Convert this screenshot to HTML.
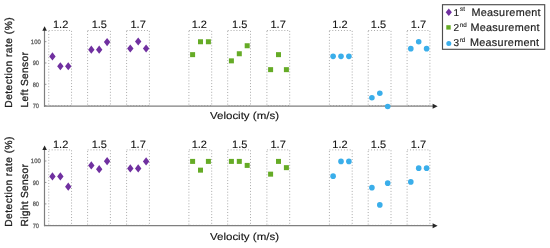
<!DOCTYPE html>
<html><head><meta charset="utf-8"><style>
html,body{margin:0;padding:0;background:#fff;}
svg{display:block;}
text{text-rendering:geometricPrecision;font-family:"Liberation Sans",sans-serif;fill:#1f1f1f;stroke:#1f1f1f;stroke-width:0.3px;}
.yt{font-size:10.2px;}
.tk{font-size:6.3px;fill:#595959;stroke:#595959;stroke-width:0.25px;text-anchor:middle;}
.bl{font-size:10.7px;stroke-width:0.12px;fill:#111;stroke:#111;}
.xt{font-size:10.2px;stroke-width:0.12px;fill:#111;stroke:#111;}
.lg{font-size:10.8px;stroke-width:0.2px;}
.dg{font-size:10px;}
.sup{font-size:6.3px;stroke-width:0.12px;}
</style></head><body>
<svg width="550" height="248" viewBox="0 0 550 248">
<rect width="550" height="248" fill="#fff"/>
<text class="yt" transform="translate(12.4,107.70) rotate(-90)" textLength="90.3" lengthAdjust="spacing">Detection rate (%)</text>
<text class="yt" transform="translate(27.7,107.40) rotate(-90)" textLength="55.2" lengthAdjust="spacing">Left Sensor</text>
<text class="tk" x="35.8" y="43.85" textLength="9.9" lengthAdjust="spacingAndGlyphs">100</text>
<text class="tk" x="35.8" y="65.18" textLength="6.3" lengthAdjust="spacingAndGlyphs">90</text>
<text class="tk" x="35.8" y="86.52" textLength="6.3" lengthAdjust="spacingAndGlyphs">80</text>
<text class="tk" x="35.8" y="107.85" textLength="6.3" lengthAdjust="spacingAndGlyphs">70</text>
<rect x="48.75" y="30.50" width="22.8" height="75.15" fill="none" stroke="#ababab" stroke-width="1" stroke-dasharray="1 1.9"/>
<rect x="87.60" y="30.50" width="22.8" height="75.15" fill="none" stroke="#ababab" stroke-width="1" stroke-dasharray="1 1.9"/>
<rect x="126.60" y="30.50" width="22.8" height="75.15" fill="none" stroke="#ababab" stroke-width="1" stroke-dasharray="1 1.9"/>
<rect x="188.90" y="30.50" width="22.8" height="75.15" fill="none" stroke="#ababab" stroke-width="1" stroke-dasharray="1 1.9"/>
<rect x="227.70" y="30.50" width="22.8" height="75.15" fill="none" stroke="#ababab" stroke-width="1" stroke-dasharray="1 1.9"/>
<rect x="266.90" y="30.50" width="22.8" height="75.15" fill="none" stroke="#ababab" stroke-width="1" stroke-dasharray="1 1.9"/>
<rect x="329.40" y="30.50" width="22.8" height="75.15" fill="none" stroke="#ababab" stroke-width="1" stroke-dasharray="1 1.9"/>
<rect x="368.20" y="30.50" width="22.8" height="75.15" fill="none" stroke="#ababab" stroke-width="1" stroke-dasharray="1 1.9"/>
<rect x="407.10" y="30.50" width="22.8" height="75.15" fill="none" stroke="#ababab" stroke-width="1" stroke-dasharray="1 1.9"/>
<text class="bl" x="53.00" y="28.30" textLength="15.3" lengthAdjust="spacingAndGlyphs">1.2</text>
<text class="bl" x="91.70" y="28.30" textLength="15.3" lengthAdjust="spacingAndGlyphs">1.5</text>
<text class="bl" x="130.50" y="28.30" textLength="15.3" lengthAdjust="spacingAndGlyphs">1.7</text>
<text class="bl" x="191.70" y="28.30" textLength="15.3" lengthAdjust="spacingAndGlyphs">1.2</text>
<text class="bl" x="232.10" y="28.30" textLength="15.3" lengthAdjust="spacingAndGlyphs">1.5</text>
<text class="bl" x="270.50" y="28.30" textLength="15.3" lengthAdjust="spacingAndGlyphs">1.7</text>
<text class="bl" x="332.30" y="28.30" textLength="15.3" lengthAdjust="spacingAndGlyphs">1.2</text>
<text class="bl" x="370.80" y="28.30" textLength="15.3" lengthAdjust="spacingAndGlyphs">1.5</text>
<text class="bl" x="410.80" y="28.30" textLength="15.3" lengthAdjust="spacingAndGlyphs">1.7</text>
<line x1="44.5" y1="30.20" x2="44.5" y2="106.80" stroke="#7f7f7f" stroke-width="1.2"/>
<path d="M44.6 26.20L46.9 30.80L42.3 30.80Z" fill="#262626"/>
<line x1="44" y1="106.20" x2="433" y2="106.20" stroke="#7f7f7f" stroke-width="1.3"/>
<path d="M437.6 106.30L432.6 103.80L432.6 108.80Z" fill="#262626"/>
<line x1="44.5" y1="41.65" x2="46.4" y2="41.65" stroke="#7f7f7f" stroke-width="0.8"/>
<line x1="44.5" y1="62.98" x2="46.4" y2="62.98" stroke="#7f7f7f" stroke-width="0.8"/>
<line x1="44.5" y1="84.32" x2="46.4" y2="84.32" stroke="#7f7f7f" stroke-width="0.8"/>
<line x1="44.5" y1="105.65" x2="46.4" y2="105.65" stroke="#7f7f7f" stroke-width="0.8"/>
<path d="M52.45 52.35L55.65 56.45L52.45 60.55L49.25 56.45Z" fill="#7030A0"/>
<path d="M60.35 62.15L63.55 66.25L60.35 70.35L57.15 66.25Z" fill="#7030A0"/>
<path d="M68.25 62.15L71.45 66.25L68.25 70.35L65.05 66.25Z" fill="#7030A0"/>
<path d="M91.30 45.55L94.50 49.65L91.30 53.75L88.10 49.65Z" fill="#7030A0"/>
<path d="M99.20 45.55L102.40 49.65L99.20 53.75L96.00 49.65Z" fill="#7030A0"/>
<path d="M107.10 37.95L110.30 42.05L107.10 46.15L103.90 42.05Z" fill="#7030A0"/>
<path d="M130.30 44.40L133.50 48.50L130.30 52.60L127.10 48.50Z" fill="#7030A0"/>
<path d="M138.20 37.40L141.40 41.50L138.20 45.60L135.00 41.50Z" fill="#7030A0"/>
<path d="M146.10 44.40L149.30 48.50L146.10 52.60L142.90 48.50Z" fill="#7030A0"/>
<rect x="190.10" y="52.15" width="5.0" height="5.0" fill="#65ab26"/>
<rect x="198.00" y="39.25" width="5.0" height="5.0" fill="#65ab26"/>
<rect x="205.90" y="39.25" width="5.0" height="5.0" fill="#65ab26"/>
<rect x="228.90" y="58.35" width="5.0" height="5.0" fill="#65ab26"/>
<rect x="236.80" y="51.25" width="5.0" height="5.0" fill="#65ab26"/>
<rect x="244.70" y="43.25" width="5.0" height="5.0" fill="#65ab26"/>
<rect x="268.10" y="67.15" width="5.0" height="5.0" fill="#65ab26"/>
<rect x="276.00" y="52.15" width="5.0" height="5.0" fill="#65ab26"/>
<rect x="283.90" y="67.15" width="5.0" height="5.0" fill="#65ab26"/>
<circle cx="333.10" cy="56.35" r="2.8" fill="#3aaeea"/>
<circle cx="341.00" cy="56.35" r="2.8" fill="#3aaeea"/>
<circle cx="348.90" cy="56.35" r="2.8" fill="#3aaeea"/>
<circle cx="371.90" cy="97.75" r="2.8" fill="#3aaeea"/>
<circle cx="379.80" cy="93.25" r="2.8" fill="#3aaeea"/>
<circle cx="387.70" cy="106.50" r="2.8" fill="#3aaeea"/>
<circle cx="410.80" cy="48.65" r="2.8" fill="#3aaeea"/>
<circle cx="418.70" cy="41.75" r="2.8" fill="#3aaeea"/>
<circle cx="426.60" cy="48.65" r="2.8" fill="#3aaeea"/>
<text class="xt" x="210.0" y="119.40" textLength="69.0" lengthAdjust="spacingAndGlyphs">Velocity (m/s)</text>
<text class="yt" transform="translate(12.4,226.80) rotate(-90)" textLength="90.3" lengthAdjust="spacing">Detection rate (%)</text>
<text class="yt" transform="translate(27.7,226.50) rotate(-90)" textLength="62.3" lengthAdjust="spacing">Right Sensor</text>
<text class="tk" x="35.8" y="163.20" textLength="9.9" lengthAdjust="spacingAndGlyphs">100</text>
<text class="tk" x="35.8" y="184.65" textLength="6.3" lengthAdjust="spacingAndGlyphs">90</text>
<text class="tk" x="35.8" y="206.10" textLength="6.3" lengthAdjust="spacingAndGlyphs">80</text>
<text class="tk" x="35.8" y="227.55" textLength="6.3" lengthAdjust="spacingAndGlyphs">70</text>
<rect x="48.75" y="149.90" width="22.8" height="75.45" fill="none" stroke="#ababab" stroke-width="1" stroke-dasharray="1 1.9"/>
<rect x="87.60" y="149.90" width="22.8" height="75.45" fill="none" stroke="#ababab" stroke-width="1" stroke-dasharray="1 1.9"/>
<rect x="126.60" y="149.90" width="22.8" height="75.45" fill="none" stroke="#ababab" stroke-width="1" stroke-dasharray="1 1.9"/>
<rect x="188.90" y="149.90" width="22.8" height="75.45" fill="none" stroke="#ababab" stroke-width="1" stroke-dasharray="1 1.9"/>
<rect x="227.70" y="149.90" width="22.8" height="75.45" fill="none" stroke="#ababab" stroke-width="1" stroke-dasharray="1 1.9"/>
<rect x="266.90" y="149.90" width="22.8" height="75.45" fill="none" stroke="#ababab" stroke-width="1" stroke-dasharray="1 1.9"/>
<rect x="329.40" y="149.90" width="22.8" height="75.45" fill="none" stroke="#ababab" stroke-width="1" stroke-dasharray="1 1.9"/>
<rect x="368.20" y="149.90" width="22.8" height="75.45" fill="none" stroke="#ababab" stroke-width="1" stroke-dasharray="1 1.9"/>
<rect x="407.10" y="149.90" width="22.8" height="75.45" fill="none" stroke="#ababab" stroke-width="1" stroke-dasharray="1 1.9"/>
<text class="bl" x="53.00" y="147.60" textLength="15.3" lengthAdjust="spacingAndGlyphs">1.2</text>
<text class="bl" x="91.70" y="147.60" textLength="15.3" lengthAdjust="spacingAndGlyphs">1.5</text>
<text class="bl" x="130.50" y="147.60" textLength="15.3" lengthAdjust="spacingAndGlyphs">1.7</text>
<text class="bl" x="191.70" y="147.60" textLength="15.3" lengthAdjust="spacingAndGlyphs">1.2</text>
<text class="bl" x="232.10" y="147.60" textLength="15.3" lengthAdjust="spacingAndGlyphs">1.5</text>
<text class="bl" x="270.50" y="147.60" textLength="15.3" lengthAdjust="spacingAndGlyphs">1.7</text>
<text class="bl" x="332.30" y="147.60" textLength="15.3" lengthAdjust="spacingAndGlyphs">1.2</text>
<text class="bl" x="370.80" y="147.60" textLength="15.3" lengthAdjust="spacingAndGlyphs">1.5</text>
<text class="bl" x="410.80" y="147.60" textLength="15.3" lengthAdjust="spacingAndGlyphs">1.7</text>
<line x1="44.5" y1="149.50" x2="44.5" y2="226.15" stroke="#7f7f7f" stroke-width="1.2"/>
<path d="M44.6 145.50L46.9 150.10L42.3 150.10Z" fill="#262626"/>
<line x1="44" y1="225.55" x2="433" y2="225.55" stroke="#7f7f7f" stroke-width="1.3"/>
<path d="M437.6 225.65L432.6 223.15L432.6 228.15Z" fill="#262626"/>
<line x1="44.5" y1="161.00" x2="46.4" y2="161.00" stroke="#7f7f7f" stroke-width="0.8"/>
<line x1="44.5" y1="182.45" x2="46.4" y2="182.45" stroke="#7f7f7f" stroke-width="0.8"/>
<line x1="44.5" y1="203.90" x2="46.4" y2="203.90" stroke="#7f7f7f" stroke-width="0.8"/>
<line x1="44.5" y1="225.35" x2="46.4" y2="225.35" stroke="#7f7f7f" stroke-width="0.8"/>
<path d="M52.45 172.30L55.65 176.40L52.45 180.50L49.25 176.40Z" fill="#7030A0"/>
<path d="M60.35 172.30L63.55 176.40L60.35 180.50L57.15 176.40Z" fill="#7030A0"/>
<path d="M68.25 182.55L71.45 186.65L68.25 190.75L65.05 186.65Z" fill="#7030A0"/>
<path d="M91.30 161.30L94.50 165.40L91.30 169.50L88.10 165.40Z" fill="#7030A0"/>
<path d="M99.20 165.05L102.40 169.15L99.20 173.25L96.00 169.15Z" fill="#7030A0"/>
<path d="M107.10 157.05L110.30 161.15L107.10 165.25L103.90 161.15Z" fill="#7030A0"/>
<path d="M130.30 164.30L133.50 168.40L130.30 172.50L127.10 168.40Z" fill="#7030A0"/>
<path d="M138.20 164.30L141.40 168.40L138.20 172.50L135.00 168.40Z" fill="#7030A0"/>
<path d="M146.10 157.30L149.30 161.40L146.10 165.50L142.90 161.40Z" fill="#7030A0"/>
<rect x="190.10" y="158.90" width="5.0" height="5.0" fill="#65ab26"/>
<rect x="198.00" y="167.65" width="5.0" height="5.0" fill="#65ab26"/>
<rect x="205.90" y="158.90" width="5.0" height="5.0" fill="#65ab26"/>
<rect x="228.90" y="158.90" width="5.0" height="5.0" fill="#65ab26"/>
<rect x="236.80" y="158.90" width="5.0" height="5.0" fill="#65ab26"/>
<rect x="244.70" y="162.90" width="5.0" height="5.0" fill="#65ab26"/>
<rect x="268.10" y="171.65" width="5.0" height="5.0" fill="#65ab26"/>
<rect x="276.00" y="158.90" width="5.0" height="5.0" fill="#65ab26"/>
<rect x="283.90" y="165.15" width="5.0" height="5.0" fill="#65ab26"/>
<circle cx="333.10" cy="176.15" r="2.8" fill="#3aaeea"/>
<circle cx="341.00" cy="161.40" r="2.8" fill="#3aaeea"/>
<circle cx="348.90" cy="161.40" r="2.8" fill="#3aaeea"/>
<circle cx="371.90" cy="187.65" r="2.8" fill="#3aaeea"/>
<circle cx="379.80" cy="204.90" r="2.8" fill="#3aaeea"/>
<circle cx="387.70" cy="183.15" r="2.8" fill="#3aaeea"/>
<circle cx="410.80" cy="181.90" r="2.8" fill="#3aaeea"/>
<circle cx="418.70" cy="168.15" r="2.8" fill="#3aaeea"/>
<circle cx="426.60" cy="168.15" r="2.8" fill="#3aaeea"/>
<text class="xt" x="210.0" y="239.50" textLength="69.0" lengthAdjust="spacingAndGlyphs">Velocity (m/s)</text>

<rect x="442.5" y="4.7" width="102.2" height="44.6" fill="#fff" stroke="#4d4d4d" stroke-width="1.15"/>
<path d="M448.8 8.4L451.9 12.2L448.8 16.0L445.7 12.2Z" fill="#7030A0"/>
<rect x="446.3" y="25.2" width="4.4" height="4.4" fill="#65ab26"/>
<circle cx="448.8" cy="43.4" r="2.5" fill="#3aaeea"/>
<text class="lg dg" x="453.4" y="15.7">1<tspan class="sup" x="460.0" y="11.3">st</tspan></text>
<text class="lg" x="471.4" y="15.6" textLength="69.2" lengthAdjust="spacing">Measurement</text>
<text class="lg dg" x="453.6" y="31.0">2<tspan class="sup" x="459.7" y="26.6">nd</tspan></text>
<text class="lg" x="470.4" y="30.9" textLength="69.2" lengthAdjust="spacing">Measurement</text>
<text class="lg dg" x="453.6" y="46.4">3<tspan class="sup" x="459.7" y="42.0">rd</tspan></text>
<text class="lg" x="469.9" y="46.3" textLength="69.2" lengthAdjust="spacing">Measurement</text>

</svg>
</body></html>
